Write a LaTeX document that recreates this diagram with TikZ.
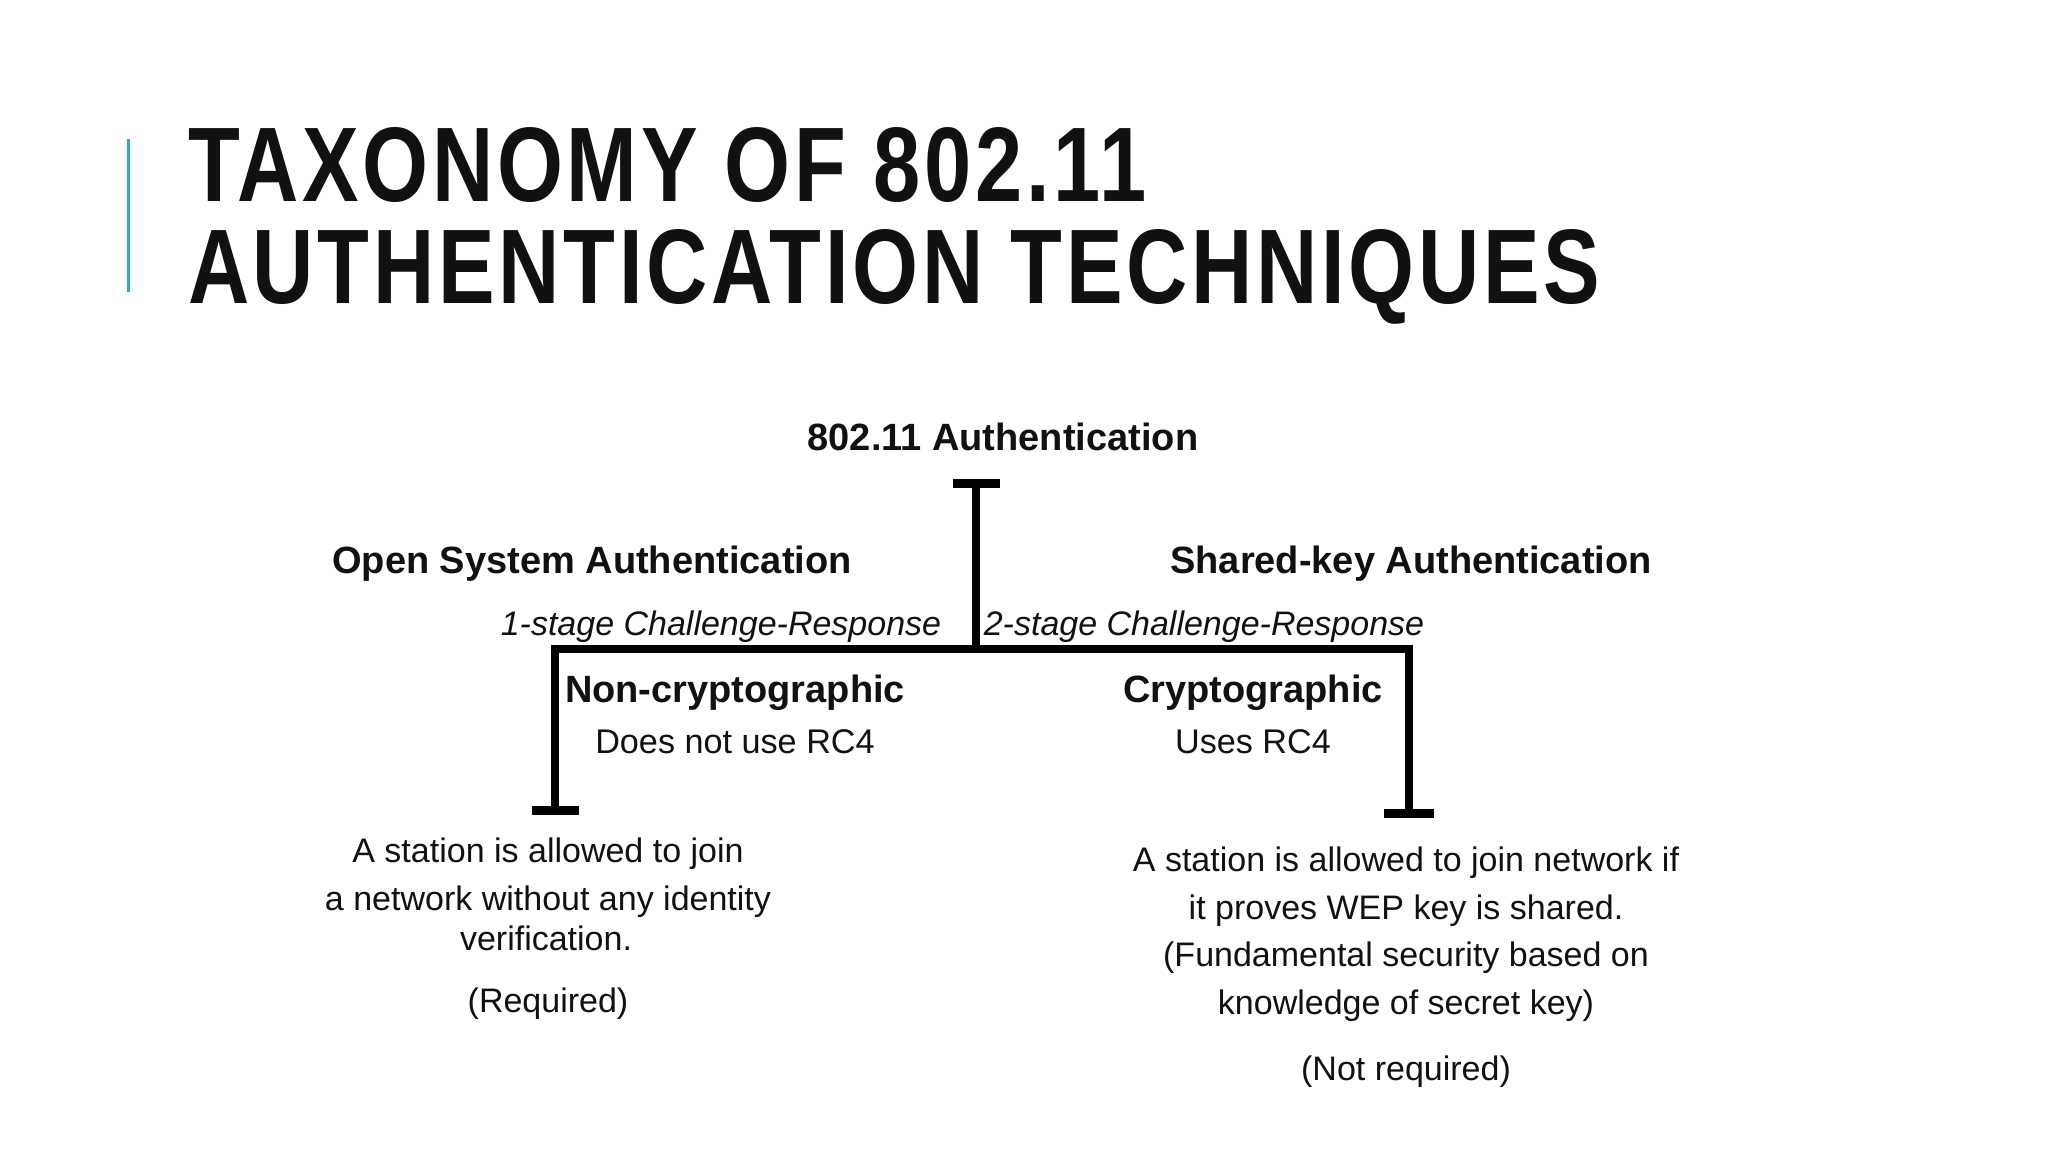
\documentclass[tikz,border=0pt]{standalone}
\usepackage{fontspec}
\setmainfont{Liberation Sans}
\newfontfamily\titlefont[FakeStretch=0.8,LetterSpace=3.5]{Liberation Sans}
\definecolor{accent}{RGB}{41,171,226}
\definecolor{ink}{RGB}{17,17,17}
\begin{document}
\begin{tikzpicture}[x=0.5pt,y=-0.5pt,
  every node/.style={inner sep=0pt, outer sep=0pt, anchor=base, text=ink},
  ttl/.style={anchor=base west, font=\titlefont\bfseries\fontsize{53}{60}\selectfont},
  head/.style={font=\bfseries\fontsize{19}{22}\selectfont},
  sub/.style={font=\fontsize{17.1}{20}\selectfont},
  ital/.style={font=\itshape\fontsize{17}{20}\selectfont},
  desc/.style={font=\fontsize{17}{20}\selectfont},
  branch/.style={draw=black, line width=4pt, line join=miter},
  tbar/.style={draw=black, line width=4.5pt}]
\useasboundingbox (0,0) rectangle (2048,1152);
\fill[white] (0,0) rectangle (2048,1152);
% accent bar
\draw[accent, line width=1.5pt] (128,139) -- (128,292);
% title
\node[ttl] (t1) at (188,201) {TAXONOMY OF 802.11};
\node[ttl] (t2) at (188,303) {AUTHENTICATION TECHNIQUES};
% labels
\node[head] (root) at (1003,450) {802.11 Authentication};
\node[head] (open) at (592,573) {Open System Authentication};
\node[head] (shared) at (1411,573) {Shared-key Authentication};
\node[ital] (one) at (721,635) {1-stage Challenge-Response};
\node[ital] (two) at (1204,635) {2-stage Challenge-Response};
\node[head] (noncry) at (735,702) {Non-cryptographic};
\node[sub] (norc) at (735,753) {Does not use RC4};
\node[head] (cry) at (1253,702) {Cryptographic};
\node[sub] (rc) at (1253,753) {Uses RC4};
% left description
\node[desc] (l1) at (548,862) {A station is allowed to join};
\node[desc] (l2) at (548,910) {a network without any identity};
\node[desc] (l3) at (546,950) {verification.};
\node[desc] (l4) at (548,1012) {(Required)};
% right description
\node[desc] (r1) at (1406,871) {A station is allowed to join network if};
\node[desc] (r2) at (1406,919) {it proves WEP key is shared.};
\node[desc] (r3) at (1406,966) {(Fundamental security based on};
\node[desc] (r4) at (1406,1014) {knowledge of secret key)};
\node[desc] (r5) at (1406,1080) {(Not required)};
% tree connectors
\coordinate (topT) at (976,483);
\coordinate (junc) at (976,649);
\coordinate (leftC) at (555,649);
\coordinate (rightC) at (1409,649);
\coordinate (leftT) at (555,810);
\coordinate (rightT) at (1409,813);
\draw[branch] (topT) -- (junc);
\draw[branch] (leftT) -- (leftC) -- (rightC) -- (rightT);
\draw[tbar] ([xshift=-11.75pt]topT) -- ([xshift=11.75pt]topT);
\draw[tbar] ([xshift=-11.75pt]leftT) -- ([xshift=11.75pt]leftT);
\draw[tbar] ([xshift=-12.5pt]rightT) -- ([xshift=12.5pt]rightT);
\end{tikzpicture}
\end{document}
